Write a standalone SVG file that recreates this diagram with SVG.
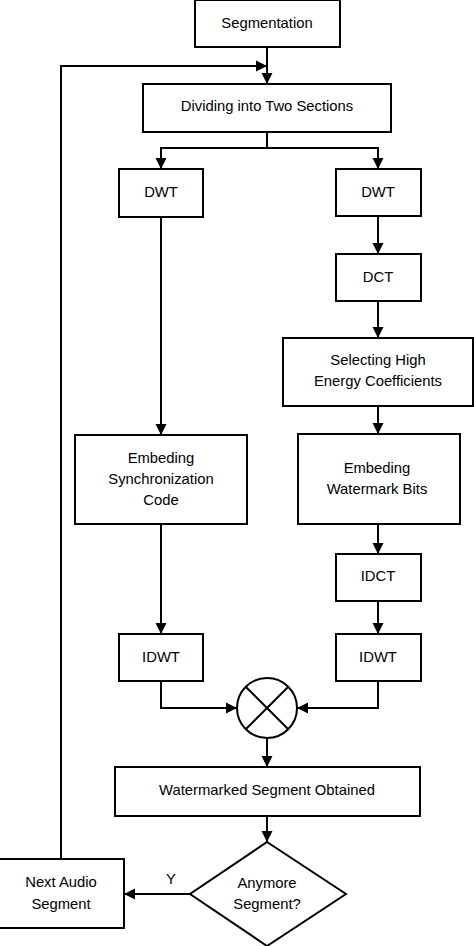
<svg xmlns="http://www.w3.org/2000/svg" width="474" height="946" viewBox="0 0 474 946">
<style>
.box{fill:#fff;stroke:#000;stroke-width:2}
.ln{fill:none;stroke:#000;stroke-width:2}
text{font-family:"Liberation Sans",Arial,sans-serif;font-size:14.8px;fill:#000;text-anchor:middle}
</style>
<defs>
<marker id="ah" markerUnits="userSpaceOnUse" markerWidth="12" markerHeight="12" viewBox="0 0 12 12" refX="11" refY="6" orient="auto">
<path d="M0,0.5 L11,6 L0,11.5 Z" fill="#000"/>
</marker>
</defs>
<rect width="474" height="946" fill="#fff"/>
<g id="connectors">
<path class="ln" d="M267,47 V84" marker-end="url(#ah)"/>
<path class="ln" d="M61,859 V66 H267" marker-end="url(#ah)"/>
<path class="ln" d="M267,132 V148 H161 V169" marker-end="url(#ah)"/>
<path class="ln" d="M267,148 H378 V169" marker-end="url(#ah)"/>
<path class="ln" d="M161,217 V435" marker-end="url(#ah)"/>
<path class="ln" d="M378,216 V254" marker-end="url(#ah)"/>
<path class="ln" d="M378,301 V338" marker-end="url(#ah)"/>
<path class="ln" d="M378,406 V434" marker-end="url(#ah)"/>
<path class="ln" d="M378,524 V554" marker-end="url(#ah)"/>
<path class="ln" d="M378,601 V634" marker-end="url(#ah)"/>
<path class="ln" d="M161,524 V634" marker-end="url(#ah)"/>
<path class="ln" d="M161,681 V708 H237" marker-end="url(#ah)"/>
<path class="ln" d="M378,681 V708 H297" marker-end="url(#ah)"/>
<path class="ln" d="M267,738 V767" marker-end="url(#ah)"/>
<path class="ln" d="M267,816 V842" marker-end="url(#ah)"/>
<path class="ln" d="M190,894 H124" marker-end="url(#ah)"/>
<text x="171" y="884">Y</text>
</g>
<g id="segmentation"><rect class="box" x="195" y="0" width="145" height="47"/><text x="267" y="27.5">Segmentation</text></g>
<g id="dividing"><rect class="box" x="143" y="84" width="248" height="48"/><text x="267" y="111">Dividing into Two Sections</text></g>
<g id="dwt-left"><rect class="box" x="119" y="169" width="84" height="48"/><text x="161" y="197">DWT</text></g>
<g id="dwt-right"><rect class="box" x="336" y="169" width="85" height="47"/><text x="378" y="197">DWT</text></g>
<g id="dct"><rect class="box" x="336" y="254" width="85" height="47"/><text x="378" y="281.5">DCT</text></g>
<g id="selecting"><rect class="box" x="283" y="338" width="190" height="68"/><text x="378" y="365">Selecting High</text><text x="378" y="386">Energy Coefficients</text></g>
<g id="embed-sync"><rect class="box" x="75" y="435" width="172" height="89"/><text x="161" y="463">Embeding</text><text x="161" y="484">Synchronization</text><text x="161" y="505">Code</text></g>
<g id="embed-wm"><rect class="box" x="298" y="434" width="162" height="90"/><text x="377" y="473">Embeding</text><text x="377" y="494">Watermark Bits</text></g>
<g id="idct"><rect class="box" x="336" y="554" width="85" height="47"/><text x="378" y="581">IDCT</text></g>
<g id="idwt-left"><rect class="box" x="119" y="634" width="84" height="47"/><text x="161" y="662">IDWT</text></g>
<g id="idwt-right"><rect class="box" x="336" y="634" width="85" height="47"/><text x="378" y="662">IDWT</text></g>
<g id="multiplier"><circle class="box" cx="267" cy="708" r="30"/><path class="ln" d="M246,687 L288,729 M288,687 L246,729"/></g>
<g id="watermarked"><rect class="box" x="115" y="767" width="305" height="49"/><text x="267" y="795">Watermarked Segment Obtained</text></g>
<g id="decision"><path class="box" d="M267,842 L346,894 L267,946 L190,894 Z"/><text x="267" y="888">Anymore</text><text x="267" y="908.5">Segment?</text></g>
<g id="next-audio"><rect class="box" x="-1" y="859" width="125" height="69"/><text x="61" y="887">Next Audio</text><text x="61" y="908.5">Segment</text></g>
</svg>
